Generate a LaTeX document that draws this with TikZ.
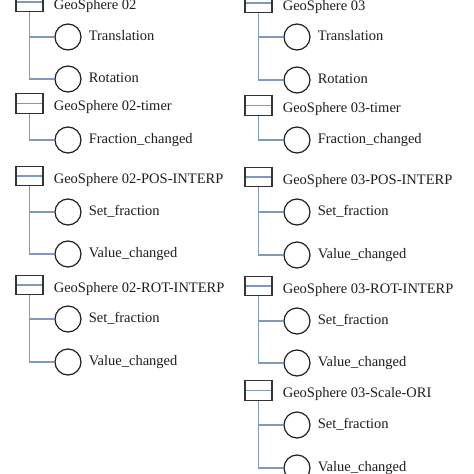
\documentclass[tikz,border=0pt]{standalone}
\usepackage{fontspec}
\setmainfont{Liberation Serif}
\usepackage{xcolor}
\usetikzlibrary{positioning}

\definecolor{linkblue}{HTML}{7F9ABA}
\definecolor{boxgray}{HTML}{333333}
\definecolor{textgray}{HTML}{1E1E1E}

\begin{document}
\begin{tikzpicture}[
x=1pt, y=-1pt,
node distance=7pt,
obj_node/.style={rectangle, draw=boxgray, line width=1.2pt, minimum width=27pt, minimum height=19.5pt, inner sep=0pt,
  path picture={\draw[linkblue, line width=1.1pt] (path picture bounding box.west) -- (path picture bounding box.east);}},
field_node/.style={circle, draw=textgray, line width=1.2pt, minimum size=26pt, inner sep=0pt},
label_node/.style={inner sep=0pt, text height=10pt, text depth=3pt, text=textgray, font=\fontsize{14.5}{16}\selectfont},
obj_label/.style={label_node, yshift=-3.5pt},
link/.style={linkblue, line width=1.1pt}
]
\useasboundingbox (0,0) rectangle (474,474);
\clip (0,0) rectangle (474,474);

% GeoSphere 02 column
\node[obj_node] (b21) at (29.5,2) {};
\node[obj_label] (l21) [right=10pt of b21] {GeoSphere 02};
\node[field_node] (t21) at (68,37) {};
\node[label_node] (lt21) [right=of t21] {Translation};
\node[field_node] (r21) at (68,79) {};
\node[label_node] (lr21) [right=of r21] {Rotation};

\node[obj_node] (b22) at (29.5,103.5) {};
\node[obj_label] (l22) [right=10pt of b22] {GeoSphere 02-timer};
\node[field_node] (f22) at (68,140) {};
\node[label_node] (lf22) [right=of f22] {Fraction\_changed};

\node[obj_node] (b23) at (29.5,176) {};
\node[obj_label] (l23) [right=10pt of b23] {GeoSphere 02-POS-INTERP};
\node[field_node] (s23) at (68,212) {};
\node[label_node] (ls23) [right=of s23] {Set\_fraction};
\node[field_node] (v23) at (68,254) {};
\node[label_node] (lv23) [right=of v23] {Value\_changed};

\node[obj_node] (b24) at (29.5,285) {};
\node[obj_label] (l24) [right=10pt of b24] {GeoSphere 02-ROT-INTERP};
\node[field_node] (s24) at (68,319) {};
\node[label_node] (ls24) [right=of s24] {Set\_fraction};
\node[field_node] (v24) at (68,362) {};
\node[label_node] (lv24) [right=of v24] {Value\_changed};

% GeoSphere 03 column
\node[obj_node] (b31) at (258.5,3) {};
\node[obj_label] (l31) [right=10pt of b31] {GeoSphere 03};
\node[field_node] (t31) at (297,37) {};
\node[label_node] (lt31) [right=of t31] {Translation};
\node[field_node] (r31) at (297,80) {};
\node[label_node] (lr31) [right=of r31] {Rotation};

\node[obj_node] (b32) at (258.5,105.5) {};
\node[obj_label] (l32) [right=10pt of b32] {GeoSphere 03-timer};
\node[field_node] (f32) at (297,140) {};
\node[label_node] (lf32) [right=of f32] {Fraction\_changed};

\node[obj_node] (b33) at (258.5,177) {};
\node[obj_label] (l33) [right=10pt of b33] {GeoSphere 03-POS-INTERP};
\node[field_node] (s33) at (297,212) {};
\node[label_node] (ls33) [right=of s33] {Set\_fraction};
\node[field_node] (v33) at (297,255) {};
\node[label_node] (lv33) [right=of v33] {Value\_changed};

\node[obj_node] (b34) at (258.5,286) {};
\node[obj_label] (l34) [right=10pt of b34] {GeoSphere 03-ROT-INTERP};
\node[field_node] (s34) at (297,321) {};
\node[label_node] (ls34) [right=of s34] {Set\_fraction};
\node[field_node] (v34) at (297,363) {};
\node[label_node] (lv34) [right=of v34] {Value\_changed};

\node[obj_node] (b35) at (258.5,390.5) {};
\node[obj_label] (l35) [right=10pt of b35] {GeoSphere 03-Scale-ORI};
\node[field_node] (s35) at (297,425) {};
\node[label_node] (ls35) [right=of s35] {Set\_fraction};
\node[field_node] (v35) at (297,468) {};
\node[label_node] (lv35) [right=of v35] {Value\_changed};

% Links
\draw[link] (b21.south) |- (t21.west);
\draw[link] (b21.south) |- (r21.west);
\draw[link] (b22.south) |- (f22.west);
\draw[link] (b23.south) |- (s23.west);
\draw[link] (b23.south) |- (v23.west);
\draw[link] (b24.south) |- (s24.west);
\draw[link] (b24.south) |- (v24.west);
\draw[link] (b31.south) |- (t31.west);
\draw[link] (b31.south) |- (r31.west);
\draw[link] (b32.south) |- (f32.west);
\draw[link] (b33.south) |- (s33.west);
\draw[link] (b33.south) |- (v33.west);
\draw[link] (b34.south) |- (s34.west);
\draw[link] (b34.south) |- (v34.west);
\draw[link] (b35.south) |- (s35.west);
\draw[link] (b35.south) |- (v35.west);
\end{tikzpicture}
\end{document}
